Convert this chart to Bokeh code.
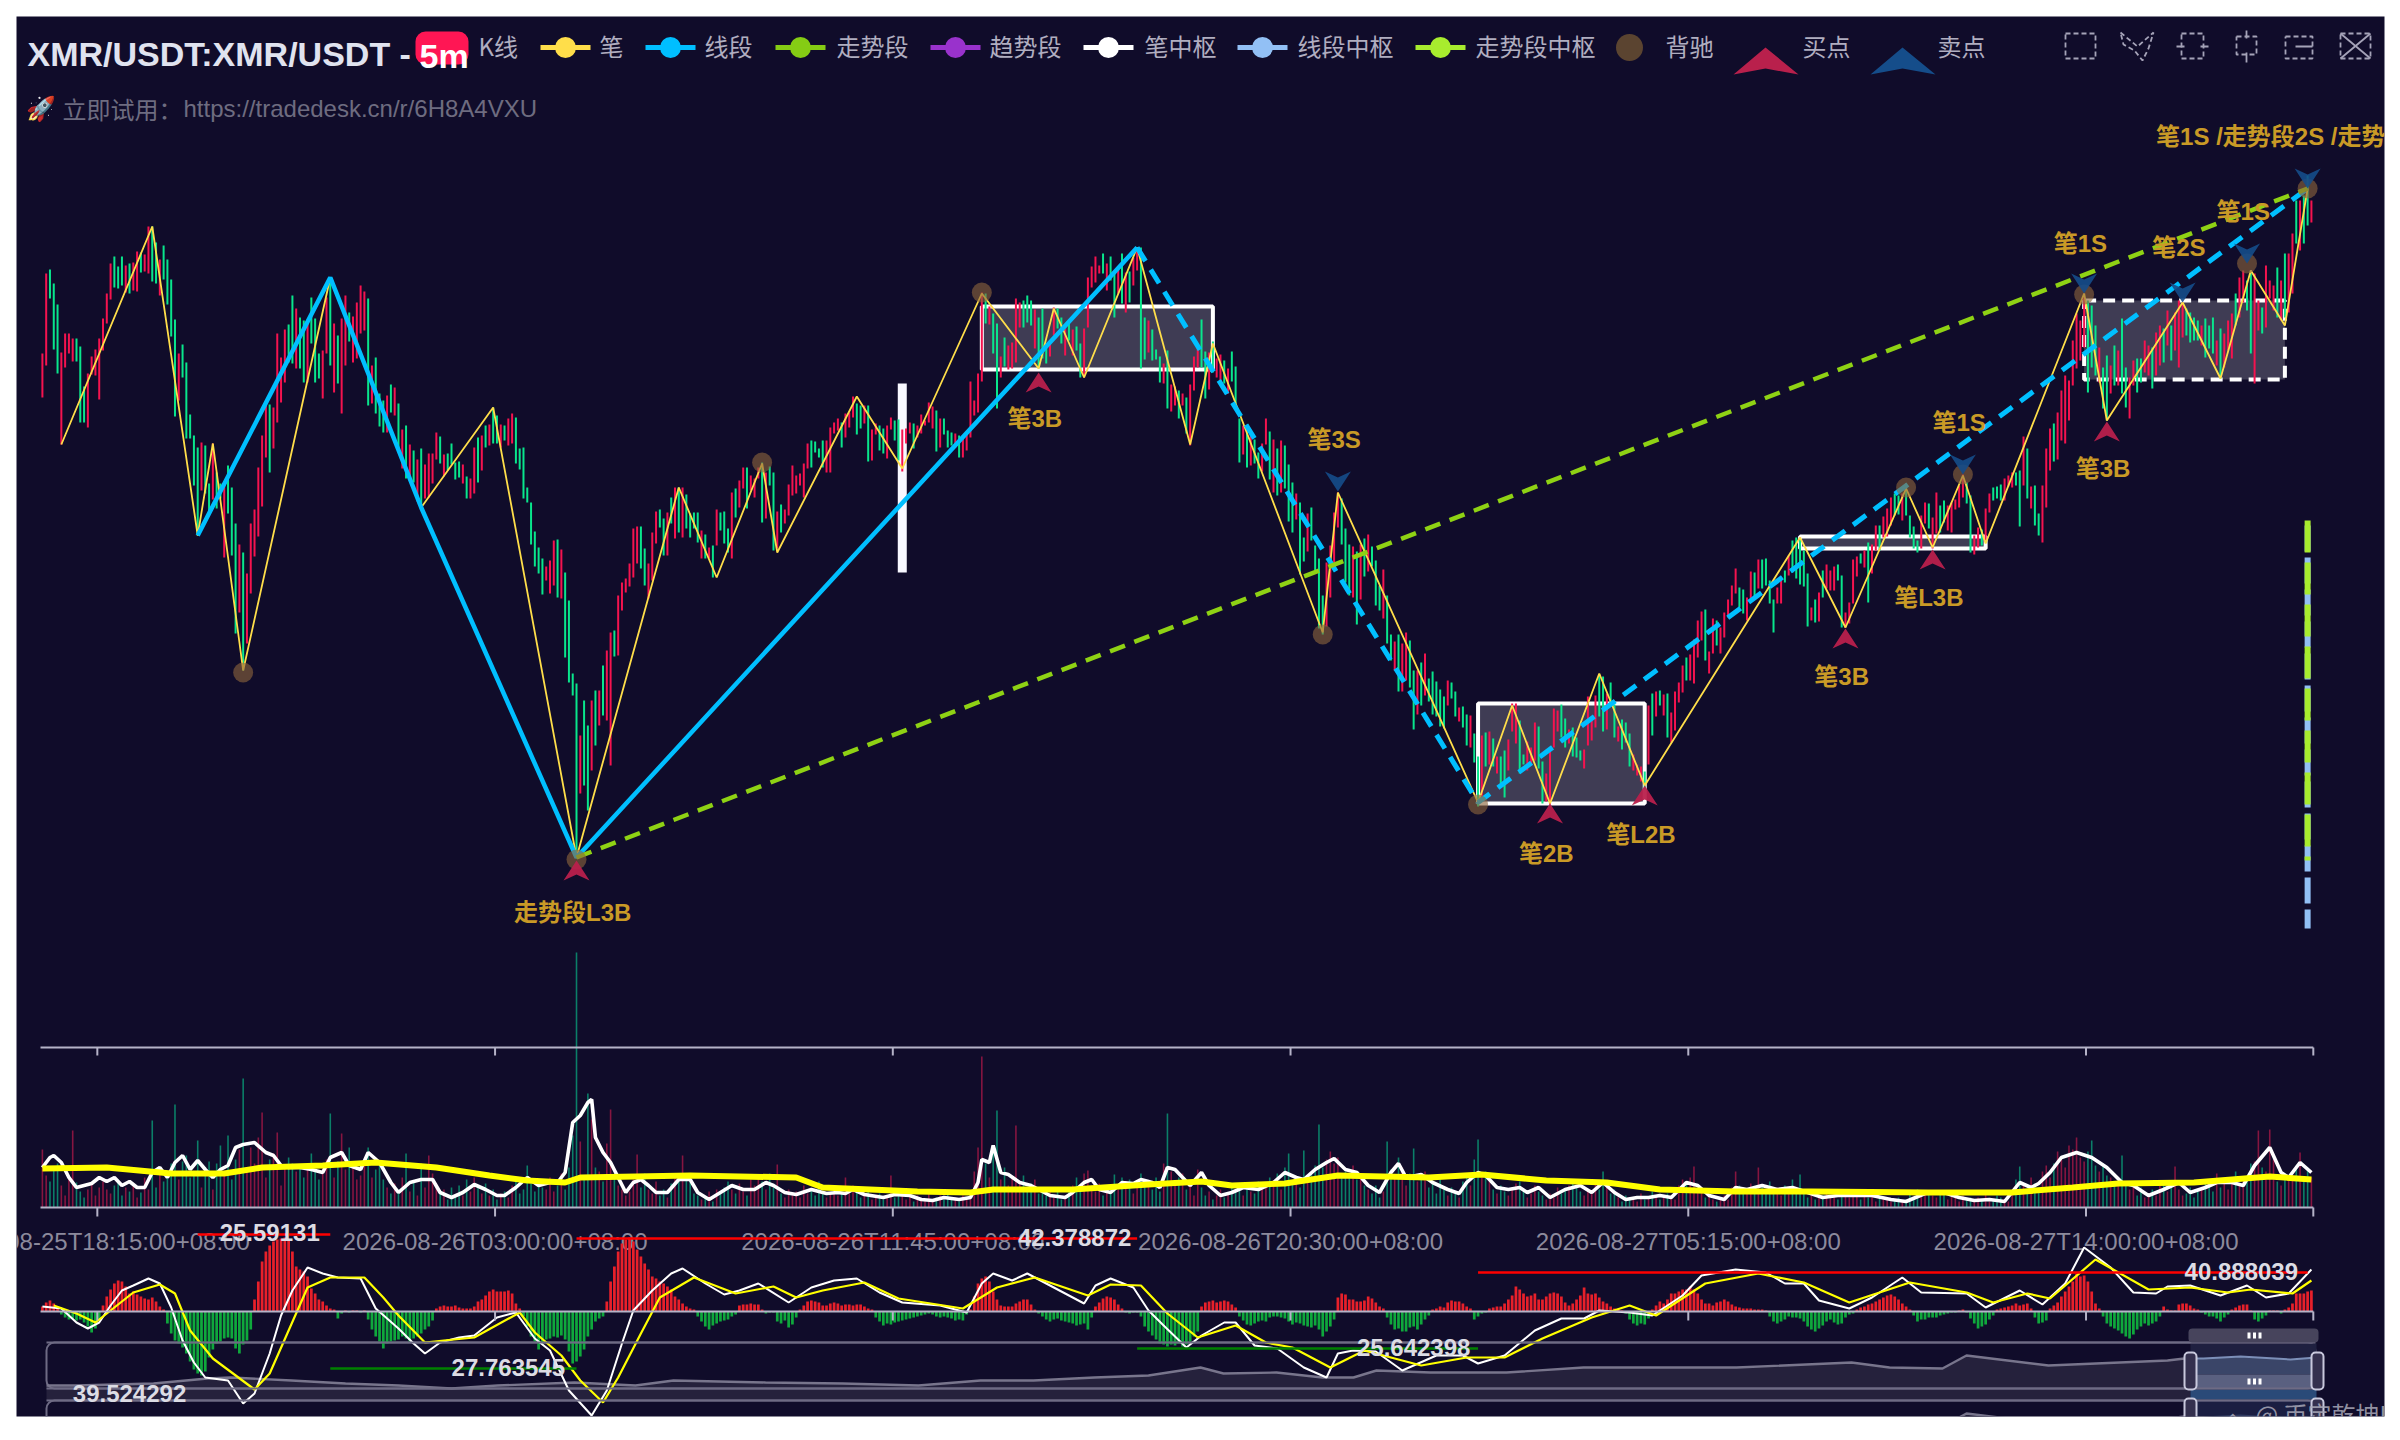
from bokeh.plotting import figure
from bokeh.models import Range1d, Label
from bokeh.core.properties import value
from bokeh.embed import file_html
from bokeh.resources import INLINE

# ---------- candles (600 bars, 5 min) ----------
HIGH = [647,727,731,717,696,648,667,667,662,662, 654,614,627,644,651,662,682,707,737,744,
 734,744,735,737,738,749,748,746,774,774, 758,741,755,741,721,681,647,656,638,586,
 565,553,558,555,517,557,528,517,518,535, 513,477,456,448,427,477,491,533,565,597,
 596,593,667,643,671,676,705,692,683,680, 679,703,682,647,650,703,723,677,665,682,
 705,688,684,698,715,709,702,635,643,607, 600,605,616,613,597,571,575,556,550,541,
 552,536,547,547,568,564,546,547,557,538, 539,536,524,522,553,563,565,575,576,593,
 585,576,575,582,587,583,552,553,513,498, 469,453,442,434,440,460,461,451,428,400,
 327,317,265,300,275,300,310,310,335,350, 368,370,405,418,422,437,472,474,474,452,
 437,468,489,491,482,488,503,513,513,513, 506,487,488,488,470,466,453,455,491,488,
 489,472,508,512,520,533,533,525,522,533, 538,528,534,528,489,496,491,516,535,525,
 527,537,557,560,559,552,560,560,573,578, 582,578,587,588,604,597,595,595,595,571,
 577,575,572,575,583,580,581,571,572,578, 577,575,586,580,598,594,590,582,582,570,
 568,567,565,565,568,619,600,627,708,707, 694,687,677,644,663,655,658,702,698,700,
 705,700,691,683,692,657,656,693,692,683, 672,680,671,674,657,672,723,734,744,735,
 747,737,744,727,733,747,728,729,743,753, 753,683,680,671,651,644,637,650,616,614,
 610,607,603,616,644,656,681,649,648,659, 642,646,640,632,649,634,582,575,573,567,
 561,548,557,582,569,561,552,560,555,536, 518,507,498,463,487,493,455,442,405,438,
 455,488,508,502,472,456,454,449,456,462, 466,454,440,415,431,405,366,359,366,357,
 368,360,330,330,338,347,322,329,319,311, 304,320,318,309,293,294,286,285,267,244,
 265,268,269,262,244,244,250,261,297,297, 280,246,259,253,278,274,239,227,251,292,
 290,296,282,271,273,263,250,251,304,280, 305,326,324,307,318,296,274,281,278,267,
 246,236,234,229,295,307,309,310,306,307, 288,309,318,335,343,346,361,380,389,391,
 349,382,380,373,388,401,415,432,413,411, 403,429,428,441,441,442,420,401,413,423,
 430,445,460,463,463,450,427,393,401,408, 430,436,430,434,436,425,388,398,441,444,
 447,450,458,456,475,475,484,492,503,507, 505,507,517,485,474,460,485,498,497,483,
 508,495,500,495,498,501,515,526,518,505, 465,473,471,492,507,513,514,516,522,525,
 528,528,530,564,552,514,515,487,515,552, 572,577,588,610,625,620,660,687,680,707,
 700,695,675,653,633,645,635,655,650,682, 633,623,640,642,642,660,655,653,668,675,
 672,690,675,688,700,698,692,688,683,680, 675,682,675,683,660,672,667,680,687,707,
 723,730,720,730,727,700,693,735,720,715, 733,720,747,747,767,800,800,805,825,800]
LOW = [603,635,702,651,627,556,633,647,639,639, 578,578,573,626,625,601,650,677,701,713,
 712,715,708,707,710,709,728,729,727,719, 717,705,721,696,664,584,600,623,562,562,
 515,465,510,507,488,501,492,502,443,487, 445,367,388,330,357,407,444,464,494,543,
 528,552,578,598,618,638,637,632,632,618, 618,657,618,622,602,647,635,608,617,587,
 635,659,638,642,667,670,595,597,587,574, 568,568,588,585,552,532,522,520,518,499,
 493,502,503,517,541,537,524,530,536,521, 523,517,502,502,507,518,530,553,555,557,
 557,553,560,555,557,537,531,502,498,456, 434,427,406,420,407,415,403,402,343,318,
 305,143,207,215,190,230,255,275,285,280, 235,344,345,390,408,414,423,437,432,415,
 402,420,457,473,445,445,477,462,468,463, 472,463,472,458,442,442,442,423,455,470,
 457,448,442,483,493,512,492,510,503,522, 478,482,515,450,452,468,477,485,505,507,
 515,503,532,533,548,543,533,528,528,567, 570,553,563,573,583,566,572,577,539,540,
 566,550,547,542,571,560,540,529,557,567, 552,563,567,575,578,572,549,553,566,553,
 555,553,543,543,550,563,585,588,619,677, 676,647,592,623,634,631,632,638,673,673,
 678,675,652,632,642,637,644,665,672,657, 645,660,645,650,623,623,673,713,718,727,
 727,710,720,683,707,697,688,698,715,730, 632,641,648,640,641,618,617,592,589,595,
 582,595,567,555,610,633,633,602,611,628, 623,619,617,607,619,597,538,546,533,535,
 537,522,529,556,521,508,505,508,512,479, 468,481,426,439,449,460,430,372,366,374,
 403,438,473,456,418,405,403,376,401,424, 429,434,395,390,382,357,340,330,309,309,
 320,313,271,286,295,305,299,286,284,274, 272,295,302,284,279,273,255,253,238,194,
 200,234,236,234,227,217,203,230,269,257, 227,236,230,236,240,232,197,199,196,253,
 269,263,253,257,244,243,240,232,255,260, 273,284,269,271,294,263,259,251,258,234,
 230,225,219,211,236,265,284,295,285,263, 258,270,298,308,320,320,317,343,360,340,
 327,347,355,347,363,383,395,407,393,387, 380,398,403,412,412,415,397,368,397,397,
 418,425,428,422,416,414,374,380,378,379, 403,412,410,410,420,373,373,377,397,424,
 437,433,398,427,450,450,463,464,475,485, 486,480,485,463,452,448,452,477,472,452,
 467,468,478,470,468,491,493,503,497,448, 446,453,455,460,488,500,502,500,500,514,
 513,515,474,515,502,492,475,465,458,493, 530,539,541,560,557,580,615,632,640,653,
 608,633,625,618,592,580,607,615,615,607, 593,582,615,608,618,628,625,612,625,635,
 638,655,640,650,633,663,665,658,660,660, 655,643,652,647,635,622,633,650,642,675,
 683,698,690,647,617,670,667,673,702,690, 683,680,683,688,707,757,750,757,775,778]
SIDE = ("rrgggrrrrg" "ggrrrrrrrg" "ggrgrrgrrg" "grggggrggg" "ggrggrggrg" "ggrgrrrrrr"
 "grrrrggrgg" "rgggrrgrgr" "rgrrrrgrgg" "grgrgrgrgr" "grrrrgrggg" "grgrrgrgrg"
 "grgrrggggg" "gggrrrgrgg" "ggrggrgrgr" "rgrrrrrrgg" "rrrggrgrgr" "ggggrgrgrg"
 "ggrgrrgrrr" "grggrgrrrr" "rrrggggrrr" "rgrrrggrgr" "rggrrggrrr" "grrrrrgrgg"
 "grgrrrrrrg" "rggrgrrrrg" "ggrgggrrgg" "rgrggrrrrr" "grggrgrgrr" "ggrgggrgrr"
 "grgrrrggrg" "rrgrgggrgr" "ggrrgrgrgg" "grggrggggr" "rrrgggrgrg" "rgggrggrgr"
 "rggrgrgggg" "grggrggrgg" "rgrgrggrrr" "ggrrrggrrr" "rggrgggrrr" "rggrggrggg"
 "rrrgrgrgrg" "rrrrgrrrrg" "rrgrrrrrgg" "rrgrggggrr" "grgggggrgr" "grrrggrrrr"
 "grgrrgrrrg" "grggggrrgr" "rggrrrrrgg" "rrgrrgggrr" "rggrgrggrr" "rgrrrrrrrr"
 "gggrggrgrg" "grrggrrgrr" "grgrrrgggg" "rgggrgrrrg" "rrggrrgrrr" "grgrrgrggr")

VOLUME = [58,32,26,38,44,22,12,30,77,25, 16,10,18,24,12,20,26,18,14,22, 28,12,20,16,24,10,15,30,18,87,
 20,38,26,30,44,103,28,46,52,30, 34,67,20,40,46,18,44,62,32,72, 28,48,58,129,36,60,44,70,95,30,
 48,54,75,22,40,50,44,36,42,30, 38,54,36,28,44,48,94,30,46,74, 38,60,40,28,32,44,60,30,38,42,
 28,20,14,24,18,30,54,16,26,12, 44,20,52,34,24,14,18,8,20,12, 22,12,28,16,30,20,14,24,12,18,
 8,14,16,10,22,30,14,18,42,24, 16,28,20,18,30,16,22,34,18,40, 72,255,66,30,114,88,40,36,26,64,
 98,30,22,18,12,16,28,53,20,34, 18,14,26,12,18,10,24,30,28,52, 30,26,14,12,8,10,16,6,18,14,
 20,26,18,14,24,16,12,28,22,30, 26,18,34,20,43,14,10,18,12,16, 10,22,14,18,12,26,16,10,14,20,
 12,16,30,14,22,16,10,12,18,8, 10,14,8,12,32,10,12,18,8,14, 6,12,10,8,14,6,10,12,8,14,
 8,10,6,12,8,14,36,60,151,44, 30,56,97,28,40,22,30,82,26,32, 18,24,28,14,20,12,18,10,16,8,
 12,16,22,30,18,34,37,22,16,24, 12,20,14,33,18,30,22,28,14,26, 34,22,26,18,30,16,44,94,36,24,
 30,34,18,26,12,38,20,12,16,8, 12,18,10,14,20,16,24,12,22,16, 14,26,18,20,30,22,34,18,40,54,
 24,30,20,57,26,34,42,83,40,48, 56,44,50,34,36,30,42,28,32,22, 18,14,22,10,16,66,38,30,50,40,
 22,34,59,26,30,36,20,24,14,28, 18,12,20,14,10,26,30,22,48,68, 30,36,26,18,14,22,16,12,20,24,
 26,18,10,14,22,16,12,8,14,10, 20,14,18,22,26,20,16,12,18,14, 26,18,36,22,14,18,10,6,12,8,
 10,6,14,8,10,16,12,8,10,14, 12,8,22,28,26,30,41,20,16,10, 14,8,6,10,12,8,20,36,22,16,
 18,24,20,40,22,14,26,18,20,12, 22,16,28,20,33,14,10,12,8,18, 12,16,10,14,8,16,12,10,18,12,
 8,14,10,16,6,12,8,10,6,8, 10,6,8,14,10,18,12,16,14,12, 10,16,14,8,12,10,6,12,8,10,
 6,10,8,14,6,8,12,10,8,6, 14,28,41,22,16,30,24,20,36,42, 30,44,56,48,40,62,58,70,50,46,
 56,67,42,36,44,32,30,26,24,52, 22,18,24,12,20,10,14,18,12,22, 26,16,24,41,18,12,14,20,10,16,
 18,26,24,16,34,20,28,18,30,36, 22,26,30,44,46,77,40,36,78,48, 26,22,34,30,28,42,55,26,40,30]
VOL_MA5_I = [0,2,3,5,7,9,11,13,15,17,19,21,23,25,27,29,31,33,35,37,39,41,43,45,47,49,51,53,56,59,61,63,65,68,71,74,76,79,81,84,86,89,92,94,97,100,103,105,108,111,114,117,120,122,125,128,131,134,136,138,140,142,144,145,146,148,150,152,154,156,158,160,162,165,168,171,173,176,179,182,185,188,191,193,196,199,203,207,210,212,214,217,222,225,229,232,235,238,242,245,247,248,250,251,253,255,258,261,263,266,270,272,275,277,279,282,285,288,290,293,295,297,299,301,303,306,308,311,314,317,321,325,328,331,333,336,339,341,344,347,350,353,356,358,360,364,367,371,374,376,379,381,384,387,390,392,395,398,402,406,409,412,415,418,421,424,427,430,434,437,440,444,447,450,454,458,462,466,470,474,478,483,488,492,497,502,506,510,514,518,522,525,527,530,533,537,541,545,549,552,556,560,564,567,571,574,578,581,584,588,591,593,596,599]
VOL_MA5 = [40,50,52,45,30,20,22,24,30,26,30,22,26,20,20,35,40,30,45,52,38,47,38,30,38,42,60,63,65,55,52,42,40,40,38,35,50,55,42,38,55,45,25,15,25,28,28,15,10,15,23,18,12,12,20,30,22,25,25,35,85,92,105,108,70,55,45,30,15,25,28,22,15,15,28,28,15,8,15,22,18,18,25,22,15,13,18,14,15,14,18,13,10,13,12,8,7,10,8,10,25,48,45,62,35,33,25,22,18,12,10,15,25,28,18,15,25,24,28,25,20,40,38,30,22,35,22,12,15,20,18,25,35,30,28,38,45,49,38,35,22,15,35,44,30,33,25,18,14,25,35,32,20,18,20,15,20,10,18,22,15,25,15,8,10,10,12,10,25,22,12,8,20,18,22,18,20,15,10,12,12,12,8,6,14,15,10,7,8,6,25,20,24,35,50,55,50,40,25,22,12,18,25,15,20,25,25,22,42,60,35,30,45,35]
VOL_MA20_I = [0,17,34,48,58,74,88,104,118,128,138,142,171,199,206,231,245,251,272,292,306,314,328,342,366,380,397,413,427,447,467,498,520,536,548,568,588,599]
VOL_MA20 = [39,40,34,34,40,42,45,40,32,27,25,30,32,30,20,16,15,18,18,23,26,22,24,32,30,33,27,25,18,16,16,15,15,20,24,25,31,28]

# ---------- MACD ----------
MACD_HIST = [5,9,11,8,3, -3,-6,-8,-7,-9,-8,-11,-15,-21,-17,-8,
 6,15,22,28,31,30,25,18,20,17,15,13,12,14,10,5,2,
 -12,-22,-29,-32,-36,-42,-50,-58,-62,-64,-60,-46,-38,-32,-30,-27,-26,-27,-37,-42,-33,-29,-18,
 12,30,50,60,66,70,72,73,74,72,60,45,42,40,35,23,18,12,10,6,3,2,
 -7,-2,1,-1,1,1,-1,1,
 -8,-18,-25,-30,-37,-32,-30,-29,-28,-25,-27,-30,-27,-25,-22,-18,-15,-9,
 3,5,6,5,5,6,4,3,3,3,5,10,12,16,20,22,20,20,20,21,18,8,3,
 -5,-15,-25,-30,-38,-32,-28,-27,-25,-26,-24,-28,-40,-52,-50,-45,-38,-25,-18,-10,-7,-5,
 10,30,45,60,68,72,74,70,62,55,48,42,35,33,30,28,25,22,15,12,8,5,3,2,
 -5,-10,-15,-18,-14,-12,-10,-9,-8,-5,-3,
 6,7,7,8,7,7,2, -2,-1,-1, -10,-12,-9,-16,-13,-6,
 2,6,10,11,10,9,6,6,8,9,8,6,7,7,6,7,7,5,3,2,
 -6,-10,-14,-12,-13,-11,-10,-9,-8,-7,-6,-5,-4,-3,-2,-3,-5,-6,-5,-6,-7,-9,-8,-9,-3,
 2,15,28,33,35,30,20,12,6,5,5,5,8,10,12,12,7,2,
 -2,-5,-8,-10,-8,-7,-9,-10,-11,-12,-14,-13,-12,-18,-6,
 5,9,13,15,14,12,7,3, -1,-2,-1,-1,
 -5,-15,-20,-24,-28,-32,-33,-35,-33,-34,-32,-35,-33,-30,-25,-20,
 5,9,10,11,9,10,11,10,7,4,
 -5,-9,-13,-14,-12,-10,-9,-10,-6,-5,-5,-6,-7,-10,-13,-11,-12,-14,-15,-16,-14,-18,-25,-20,-15,-8,
 14,18,17,12,12,10,10,11,15,13,9,5,3,
 -6,-13,-18,-17,-20,-20,-16,-15,-18,-13,-8,-4,
 2,3,5,4,9,11,10,10,8,5,3, -8,-5,-2,-1,
 3,4,5,5,8,12,16,25,22,18,15,16,18,12,12,15,18,19,18,15,9,6,8,12,16,24,18,17,18,14,10,8,5,3,2,1,
 -2,-8,-12,-14,-12,-13,-7,
 2,6,10,8,12,18,18,20,22,22,25,22,18,12,8,8,6,9,10,12,10,7,5,4,3,3,3,2,2,2,1,
 -5,-10,-12,-10,-8,-5,-6,-6,-7,-10,-15,-18,-20,-17,-14,-10,-8,-11,-13,-12,-6,-3,-2,
 2,4,5,7,8,10,12,14,16,17,15,12,8,5,2,
 -4,-10,-8,-8,-6,-6,-6,-4,-3,-2,-1,-1, 1,2,-1,
 -7,-12,-17,-15,-13,-8,-4, 2,3,4,5,6,8,6,7,8,3, -6,-12,-11,-9,
 3,6,9,15,20,25,30,38,35,36,30,20,8,3,
 -5,-12,-15,-17,-19,-22,-25,-27,-23,-18,-15,-12,-14,-12,-10,-5,
 5,2,1,1,7,8,8,6,3,2, -1,-3,-5,-5,-7,-10,-6,-3, 2,4,6,7,7,1, -8,-10,-7,-4,
 1,1,1,-2,2,4,8,18,18,18,20,21]
DIF_I = [0,5,9,12,15,18,21,24,28,31,34,37,40,43,49,53,56,60,63,66,70,74,78,84,88,94,98,101,105,110,114,120,125,130,134,139,145,149,153,156,161,166,169,175,180,184,189,197,203,209,215,221,227,237,244,248,251,256,260,267,275,278,282,288,292,296,302,306,312,315,320,326,333,339,342,346,352,359,368,375,379,386,394,401,407,411,419,425,433,438,447,455,460,465,469,477,483,491,496,508,513,522,528,534,539,546,552,558,561,567,575,582,587,593,599]
DIF = [5,3,-11,-17,-11,6,21,26,33,28,4,-29,-51,-66,-69,-92,-82,-42,-4,21,44,38,34,33,3,-17,-32,-42,-31,-26,-24,-6,-1,-27,-39,-79,-104,-79,-32,1,21,38,43,28,17,21,28,9,24,31,33,19,9,6,-1,28,38,31,38,24,8,26,33,24,1,-14,-36,-24,-11,-11,-34,-37,-56,-66,-42,-39,-40,-59,-44,-44,-52,-44,-19,-7,-7,1,-1,-4,16,36,42,39,28,28,11,3,14,34,19,18,4,21,7,28,64,44,19,18,25,26,16,26,14,18,42]
DEA_I = [3,9,14,19,24,31,35,39,45,56,60,65,70,76,85,90,94,101,106,114,126,130,137,142,148,152,158,163,172,183,193,199,206,217,226,243,252,262,276,282,290,297,305,315,323,330,340,349,364,376,386,396,409,419,426,439,453,465,477,493,508,515,524,530,542,556,567,577,583,594,599]
DEA = [6,-2,-11,4,19,27,18,-19,-47,-78,-62,-19,24,34,34,14,-4,-31,-29,-26,-1,-21,-44,-69,-91,-66,-22,14,34,18,25,14,21,29,13,3,24,34,16,27,26,-2,-26,-14,-31,-36,-56,-39,-54,-46,-46,-27,-6,6,-4,28,38,29,9,29,19,9,18,13,52,22,24,19,22,18,31]

# ---------- Chan structures ----------
BI_I = [5,29,41,45,53,76,100,119,141,168,178,190,194,215,227,248,263,267,275,289,303,309,338,342,379,388,398,411,423,464,476,492,499,507,513,539,545,565,575,583,592,598]
BI_P = [556,774,465,557,330,723,493,593,143,513,423,537,448,604,532,707,632,692,623,753,556,657,368,508,198,295,197,327,215,463,373,512,453,525,457,707,580,698,622,730,675,812]
SEG_I = [41,76,100,141,289]; SEG_P = [465,723,493,143,753]
SEG2_I = [289,379,598]; SEG2_P = [753,198,812]
TREND_I = [141,598]; TREND_P = [143,812]
ZS_L = [248,379,464]; ZS_R = [309,423,513]; ZS_T = [694,297,464]; ZS_B = [631,197,452]
ZS2_L = [539]; ZS2_R = [592]; ZS2_T = [700]; ZS2_B = [621]
DIV_I = [53,141,190,248,338,379,492,507,539,582,598]
DIV_P = [328,141,538,708,366,196,513,526,706,737,812]
BUY_I = [141,263,398,423,476,499,545]
BUY_P = [140,628,197,215,372,451,579]
BUY_T = ["走势段L3B","笔3B","笔2B","笔L2B","笔3B","笔L3B","笔3B"]
BUY_LX = [140,262,397,422,475,498,544]
BUY_LP = [88,582,147,166,324,403,532]
SELL_I = [342,507,539,565,582,598]
SELL_P = [509,526,707,698,737,812]
SELL_T = ["笔3S","笔1S","笔1S","笔2S","笔1S","笔1S /走势段2S /走势段2S"]
SELL_LX = [341,506,538,564,581,558]
SELL_LP = [561,578,757,753,789,864]
MARK_TXT = ["25.59131","42.378872","40.888039","27.763545","25.642398","39.524292"]
MARK_I = [60,272.5,580.5,123,362,23]
MARK_V = [79,74,40,-56,-36,-82]
MARK_RED = [(41,76,77),(141,289,73),(379,598,39)]
MARK_GRN = [(76,141,-57),(289,379,-37)]

TICK_I = [14.5,119.5,224.5,329.5,434.5,539.5,599.5]
TICK_TXT = ["2026-08-25T18:15:00+08:00","2026-08-26T03:00:00+08:00","2026-08-26T11:45:00+08:00",
            "2026-08-26T20:30:00+08:00","2026-08-27T05:15:00+08:00","2026-08-27T14:00:00+08:00",""]

LEGEND = ["K线","笔","线段","走势段","趋势段","笔中枢","线段中枢","走势段中枢","背驰","买点","卖点"]
LEG_TXT_X = [478,599,704,836,989,1144,1297,1475,1665,1802,1937]
LEG_ICON_X = [None,565,670,800,955,1108,1262,1440]
LEG_COL = [None,"#ffde4a","#00bfff","#85cc14","#9932cc","#ffffff","#92c0f5","#a8ec2e"]

SL_X = [46,76,153,207,230,291,345,398,451,497,574,635,673,765,842,918,980,1033,1094,1148,1200,1223,1276,1322,1353,1376,1430,1506,1583,1660,1736,1851,1889,1942,1966,2048,2167,2184,2190]
SL_Y = [1385,1385,1383,1378,1377,1380,1383,1385,1388,1385,1382,1385,1380,1382,1383,1385,1380,1380,1377,1375,1367,1373,1372,1377,1377,1370,1372,1372,1367,1367,1367,1362,1367,1368,1355,1365,1360,1358,1358]
SL2_X = [2190,2203,2240,2290,2316]; SL2_Y = [1358,1358,1356,1359,1357]

BG="#100c2a"; UP="#f5134f"; DN="#09e68c"; CJK="Noto Sans CJK SC"; LAT="Liberation Sans"
MIX="Liberation Sans, Noto Sans CJK SC"
PX=3.788; X0=41.9

p = figure(width=2392, height=1430, x_range=Range1d(16,2384), y_range=Range1d(1416,16),
           output_backend="svg", toolbar_location=None, x_axis_location=None, y_axis_location=None,
           background_fill_color=BG, border_fill_color="#ffffff", outline_line_color=None,
           min_border_left=16, min_border_right=8, min_border_top=16, min_border_bottom=14)
p.grid.visible=False
p.extra_x_ranges["bar"]=Range1d((16-X0)/PX,(2384-X0)/PX)
p.extra_y_ranges["price"]=Range1d(-416,984)
p.extra_y_ranges["vol"]=Range1d(-209,1191)
p.extra_y_ranges["macd"]=Range1d(-105,1295)
BP=dict(x_range_name="bar",y_range_name="price")
BV=dict(x_range_name="bar",y_range_name="vol")
BM=dict(x_range_name="bar",y_range_name="macd")
n=len(HIGH)
idx=list(range(n))

# thick vertical centre (zero-width zone) below the candles
p.segment([227],[617],[227],[428],line_color="#f8f8ff",line_width=9,**BP)
# zones
p.quad(left=ZS_L,right=ZS_R,top=ZS_T,bottom=ZS_B,fill_color="#ffffff",fill_alpha=0.2,line_color="#ffffff",line_width=4,**BP)
p.quad(left=ZS2_L,right=ZS2_R,top=ZS2_T,bottom=ZS2_B,fill_color="#ffffff",fill_alpha=0.2,line_color="#ffffff",line_width=4,line_dash="12 7",**BP)
# candles
col=[UP if s=="r" else DN for s in SIDE]
p.segment(idx,LOW,idx,HIGH,line_color=col,line_width=2,**BP)
# Chan lines
p.line(BI_I,BI_P,line_color="#ffde4a",line_width=1.8,**BP)
p.line(SEG_I,SEG_P,line_color="#00bfff",line_width=4.5,**BP)
p.line(SEG2_I,SEG2_P,line_color="#00bfff",line_width=5,line_dash="16 10",**BP)
p.line(TREND_I,TREND_P,line_color="#8fd214",line_width=4.5,line_dash="16 10",**BP)
p.segment([598],[475],[598],[72],line_color="#92c0f5",line_width=6,line_dash="26 6",**BP)
p.segment([598],[480],[598],[140],line_color="#a8ec2e",line_width=6,line_dash="32 10",**BP)
# divergences
p.scatter(DIV_I,DIV_P,size=20,marker="circle",fill_color="#8b643c",fill_alpha=0.62,line_color=None,**BP)
# arrows
W=26/PX/2
bx=[[i-W,i,i+W,i] for i in BUY_I]; by=[[q-20,q,q-20,q-14] for q in BUY_P]
p.patches(bx,by,fill_color="#b9204c",fill_alpha=0.95,line_color=None,**BP)
sx=[[i-W,i,i+W,i] for i in SELL_I]; sy=[[q+20,q,q+20,q+14] for q in SELL_P]
p.patches(sx,sy,fill_color="#154d8a",fill_alpha=0.9,line_color=None,**BP)
lab=dict(text_font=value(MIX),text_font_size="24px",text_font_style="bold",text_color="#c99a26",text_align="center",text_baseline="middle")
p.text(BUY_LX,BUY_LP,text=BUY_T,**lab,**BP)
p.text(SELL_LX[:-1],SELL_LP[:-1],text=SELL_T[:-1],**lab,**BP)
lab2=dict(lab); lab2["text_align"]="left"
p.text([558],[864],text=SELL_T[-1:],**lab2,**BP)

# volume
vc=["#861540" if s=="r" else "#0b7f68" for s in SIDE]
p.vbar(idx,width=0.42,top=VOLUME,bottom=0,fill_color=vc,line_color=None,**BV)
p.line(VOL_MA5_I,VOL_MA5,line_color="#ffffff",line_width=3.6,**BV)
p.line(VOL_MA20_I,VOL_MA20,line_color="#ffff00",line_width=6,**BV)

# axis lines (volume top and bottom, MACD zero)
AX="#b5b3c8"
p.segment(x0=[-0.5,-0.5],y0=[160,0],x1=[599.5,599.5],y1=[160,0],line_color=AX,line_width=2,**BV)
p.segment(TICK_I,[160]*7,TICK_I,[152]*7,line_color=AX,line_width=2,**BV)
p.segment(TICK_I,[0]*7,TICK_I,[-9]*7,line_color=AX,line_width=2,**BV)
p.text(TICK_I,[-34]*7,text=TICK_TXT,text_font=value(LAT),text_font_size="24px",text_color="#8c8a9c",text_align="center",text_baseline="middle",**BV)

# slider 1 and 2 backgrounds
p.varea(SL_X,SL_Y,[1400]*len(SL_X),fill_color="#25213c")
p.varea(SL_X,[v+58 for v in SL_Y],[1446]*len(SL_X),fill_color="#25213c")
FR="#6e6b84"
p.quad(left=[46,46],right=[2315,2315],top=[1342,1400],bottom=[1388,1446],fill_color=None,line_color=FR,line_width=2,border_radius=8)
p.line(SL_X,SL_Y,line_color="#78758c",line_width=2.4)
p.line(SL_X,[v+58 for v in SL_Y],line_color="#78758c",line_width=2.4)

# MACD
hc=["#e8202a" if v>=0 else "#0fa83c" for v in MACD_HIST]
p.vbar(idx,width=0.72,top=MACD_HIST,bottom=0,fill_color=hc,line_color=None,**BM)
p.line(DIF_I,DIF,line_color="#ffffff",line_width=2,**BM)
p.line(DEA_I,DEA,line_color="#ffff00",line_width=2.2,**BM)
p.segment(x0=[-0.5],y0=[0],x1=[599.5],y1=[0],line_color=AX,line_width=2,**BM)
p.segment(TICK_I,[0]*7,TICK_I,[-9]*7,line_color=AX,line_width=2,**BM)
p.segment([m[0] for m in MARK_RED],[m[2] for m in MARK_RED],[m[1] for m in MARK_RED],[m[2] for m in MARK_RED],line_color="#ff0000",line_width=2.6,**BM)
p.segment([m[0] for m in MARK_GRN],[m[2] for m in MARK_GRN],[m[1] for m in MARK_GRN],[m[2] for m in MARK_GRN],line_color="#008000",line_width=2.6,**BM)

# selected window of sliders
p.quad(left=[2190],right=[2316],top=[1343],bottom=[1358],fill_color="#1f2040",line_color=None)
p.varea(SL2_X,SL2_Y,[1374]*len(SL2_X),fill_color="#3a4568")
p.line(SL2_X,SL2_Y,line_color="#7c8fb8",line_width=2)
p.quad(left=[2190],right=[2316],top=[1374],bottom=[1388],fill_color="#5a6080",line_color=None)
p.quad(left=[2190],right=[2316],top=[1389],bottom=[1399],fill_color="#2a4a78",line_color=None)
p.varea(SL2_X,[v+58 for v in SL2_Y],[1416]*len(SL2_X),fill_color="#3a4568")
p.quad(left=[2190],right=[2316],top=[1400],bottom=[1416],fill_color="#24305a",fill_alpha=0.5,line_color=None)
p.segment([46,46],[1342,1388],[2315,2315],[1342,1388],line_color=FR,line_width=2)
p.segment([46],[1400],[2315],[1400],line_color=FR,line_width=2)
p.quad(left=[2188],right=[2318],top=[1328],bottom=[1342],fill_color="#47445c",line_color=None,border_radius=4)
p.quad(left=[2247,2252.5,2258],right=[2250,2255.5,2261],top=[1332]*3,bottom=[1338]*3,fill_color="#ffffff",line_color=None)
p.quad(left=[2247,2252.5,2258],right=[2250,2255.5,2261],top=[1378]*3,bottom=[1384]*3,fill_color="#ffffff",line_color=None)
p.quad(left=[2184,2311,2184,2311],right=[2196,2323,2196,2323],top=[1352,1352,1398,1398],bottom=[1389,1389,1436,1436],
       fill_color="#34304e",line_color="#c8c8dc",line_width=2,border_radius=4)

# mark labels on top
p.text(MARK_I,MARK_V,text=MARK_TXT,text_font=value(LAT),text_font_size="24px",text_font_style="bold",text_color="#dcdce4",text_align="center",text_baseline="middle",**BM)

# title, sub-title
p.text([27],[53],text=["XMR/USDT:XMR/USDT - "],text_font=value(LAT),text_font_size="34px",text_font_style="bold",text_color="#e0e3ef",text_baseline="middle")
p.quad(left=[415],right=[468],top=[31],bottom=[64],fill_color="#ff1654",line_color=None,border_radius=10)
p.text([419],[55],text=["5m"],text_font=value(LAT),text_font_size="34px",text_font_style="bold",text_color="#ffffff",text_baseline="middle")
p.text([26],[108],text=["🚀"],text_font=value("Noto Color Emoji"),text_font_size="24px",text_baseline="middle",text_color="#8c8a9c")
p.text([62],[108],text=["立即试用："],text_font=value(CJK),text_font_size="24px",text_color="#6e6c80",text_baseline="middle")
p.text([183],[108],text=["https://tradedesk.cn/r/6H8A4VXU"],text_font=value(LAT),text_font_size="24px",text_color="#6e6c80",text_baseline="middle")

# legend
p.text(LEG_TXT_X,[45]*len(LEGEND),text=LEGEND,text_font=value(CJK),text_font_size="24px",text_color="#b0aec0",text_baseline="middle")
ix=[v for v in LEG_ICON_X if v]; ic=[c for c in LEG_COL if c]
p.segment([v-25 for v in ix],[47]*7,[v+25 for v in ix],[47]*7,line_color=ic,line_width=5)
p.scatter(ix,[47]*7,size=21,marker="circle",fill_color=ic,line_color=None)
p.scatter([1629],[47],size=27,marker="circle",fill_color="#5b4430",line_color=None)
p.patches([[1733,1765,1798,1765],[1870,1902,1935,1902]],[[74,47,74,68],[74,47,74,68]],fill_color=["#b9204c","#154d8a"],line_color=None)

# toolbox
TB="#a5a3b8"
tb_x=[[2065,2095,2095,2065,2065],[2120,2137,2153,2148,2142,2134,2123,2120],[2181,2203,2203,2181,2181],[2236,2256,2256,2236,2236],[2285,2312,2312,2285,2285],[2340,2370,2370,2340,2340]]
tb_y=[[33,33,58,58,33],[32,46,32,48,60,50,44,32],[33,33,58,58,33],[36,36,54,54,36],[36,36,58,58,36],[33,33,58,58,33]]
p.multi_line(tb_x,tb_y,line_color=TB,line_width=1.8,line_dash="5 3")
p.multi_line([[2176,2184],[2200,2208],[2246,2246],[2246,2246],[2340,2370],[2340,2370],[2295,2312]],
             [[46,46],[46,46],[30,38],[52,62],[33,58],[58,33],[46,46]],line_color=TB,line_width=1.8)

# watermark, drawn across the panel edge
p.add_layout(Label(x=2204,y=-6,x_units="screen",y_units="screen",text="◈",text_font="DejaVu Sans",text_font_size="32px",text_color="#a9a9b8",text_alpha=0.85,text_baseline="middle"))
p.add_layout(Label(x=2239,y=3,x_units="screen",y_units="screen",text="@ 币定乾坤U",text_font=CJK,text_font_size="24px",text_color="#a9a9b8",text_alpha=0.85,text_baseline="middle"))

open("out.html","w").write(file_html(p,INLINE))
